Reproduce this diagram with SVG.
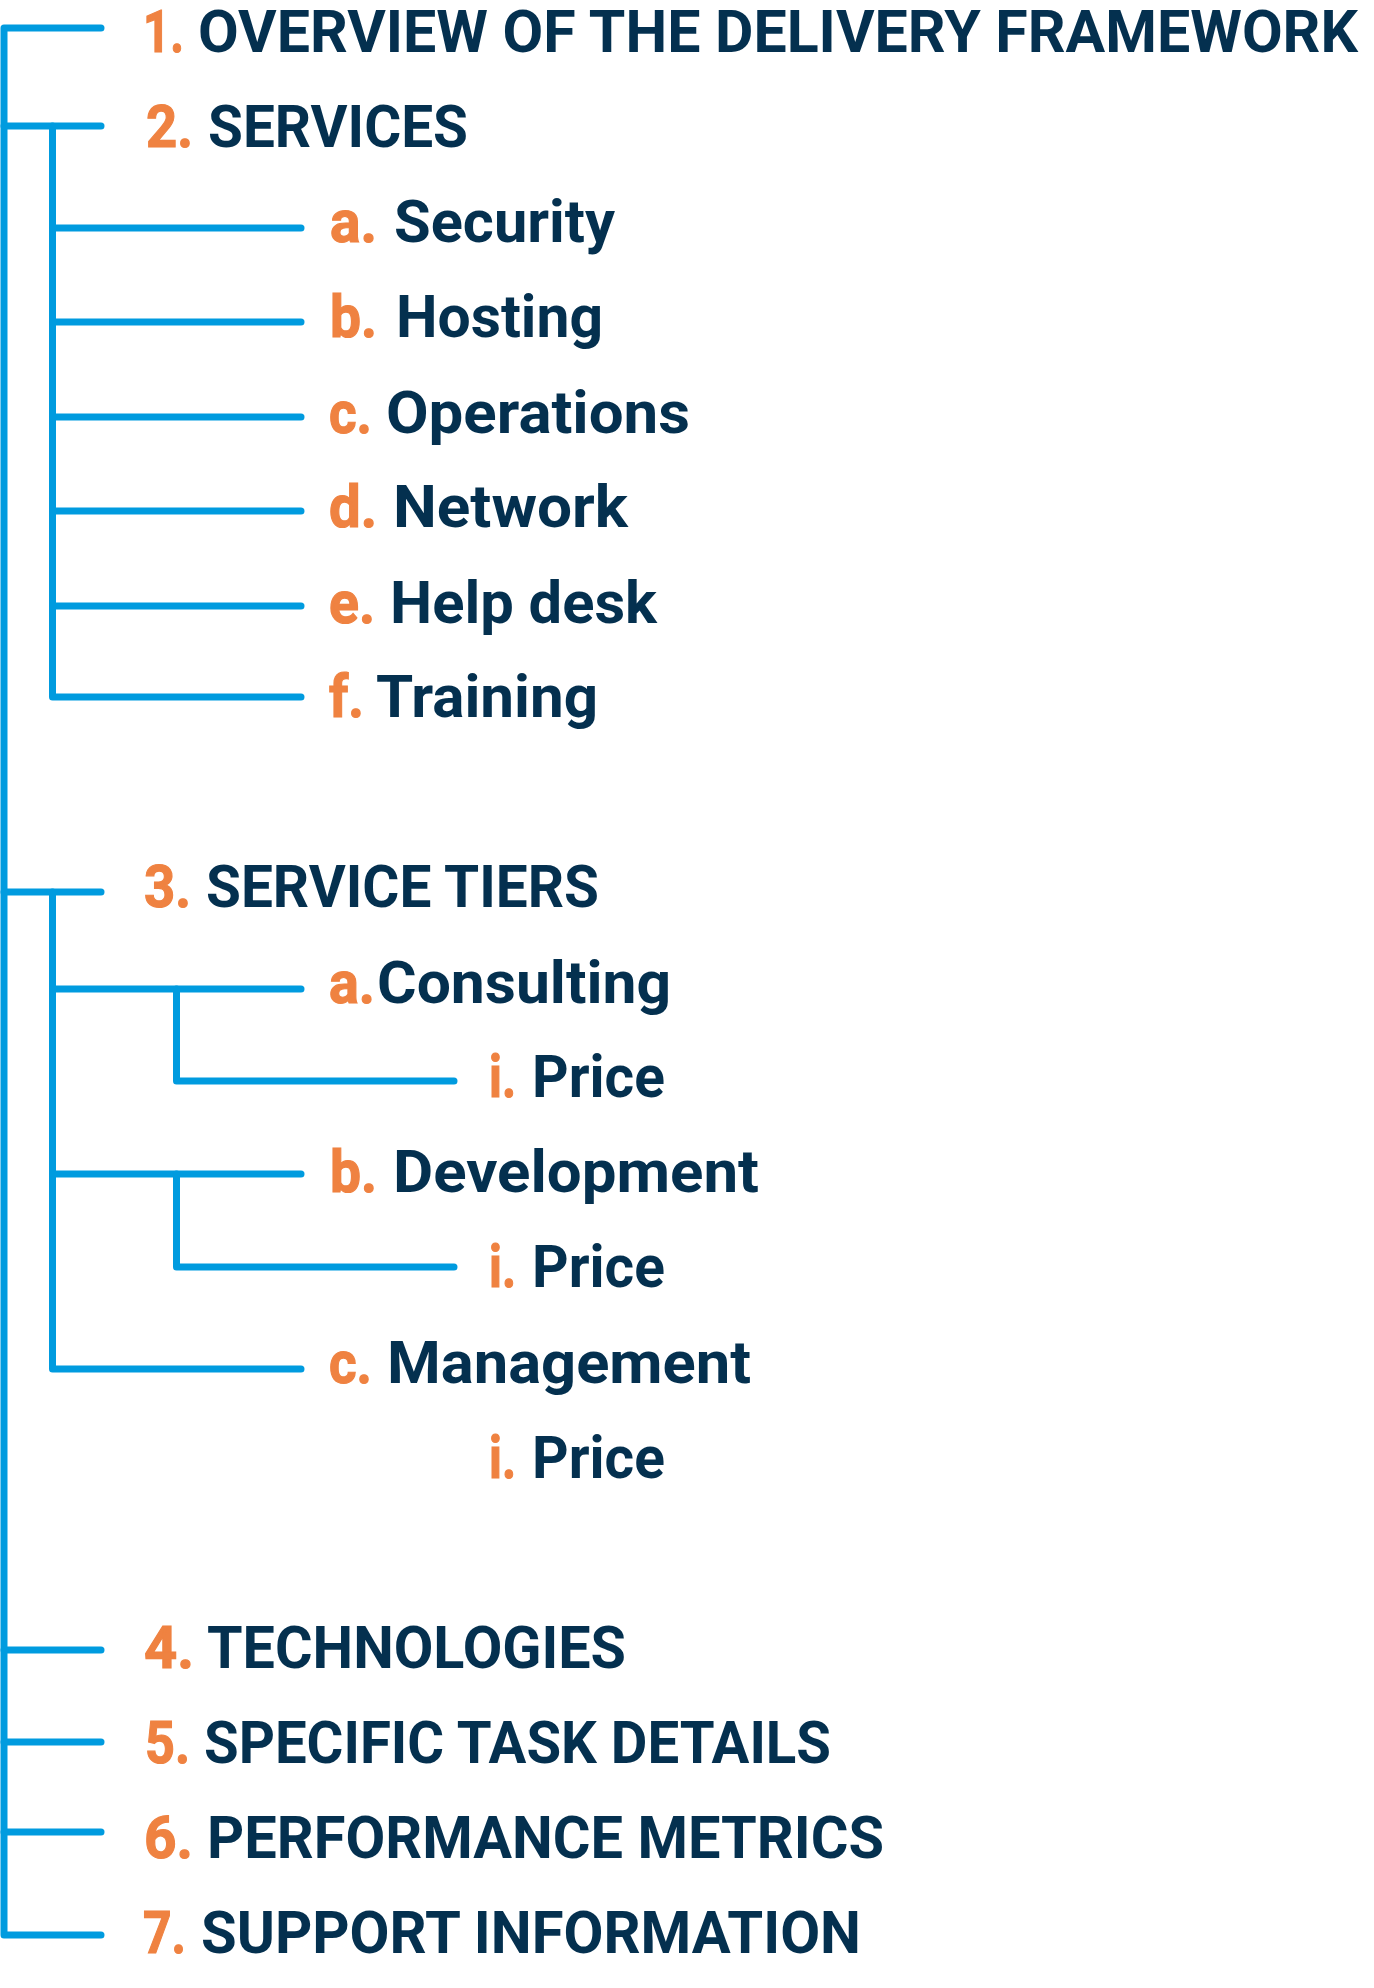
<svg xmlns="http://www.w3.org/2000/svg" width="1374" height="1988" viewBox="0 0 1374 1988">
<style>
  .ln { fill: none; stroke: #009BDF; stroke-width: 7; stroke-linecap: round; stroke-linejoin: round; }
  text { font-family: Roboto, "Open Sans", "Liberation Sans", sans-serif; font-size: 60px; font-weight: 700; }
  .n { fill: #EF8241; stroke: #EF8241; stroke-width: 1.2; }
  .t { fill: #04304F; }
</style>
<rect x="0" y="0" width="1374" height="1988" fill="#FFFFFF"/>
<g id="connectors">
  <path class="ln" d="M101,28 H4 V1935 H101"/>
  <path class="ln" d="M4,126 H101"/>
  <path class="ln" d="M4,892 H101"/>
  <path class="ln" d="M4,1650 H101"/>
  <path class="ln" d="M4,1742 H101"/>
  <path class="ln" d="M4,1832 H101"/>
  <path class="ln" d="M52.5,126 V697 H301"/>
  <path class="ln" d="M52.5,228 H301"/>
  <path class="ln" d="M52.5,322 H301"/>
  <path class="ln" d="M52.5,417 H301"/>
  <path class="ln" d="M52.5,511 H301"/>
  <path class="ln" d="M52.5,606 H301"/>
  <path class="ln" d="M52.5,892 V1369 H301"/>
  <path class="ln" d="M52.5,989 H301"/>
  <path class="ln" d="M52.5,1174 H301"/>
  <path class="ln" d="M176.5,989 V1081 H454"/>
  <path class="ln" d="M176.5,1174 V1267 H454"/>
</g>
<g id="n1"><text class="n" x="143" y="52" textLength="41" lengthAdjust="spacingAndGlyphs">1.</text><text class="t" x="198" y="52" textLength="1160" lengthAdjust="spacingAndGlyphs">OVERVIEW OF THE DELIVERY FRAMEWORK</text></g>
<g id="n2"><text class="n" x="146" y="147" textLength="47" lengthAdjust="spacingAndGlyphs">2.</text><text class="t" x="208" y="147" textLength="260" lengthAdjust="spacingAndGlyphs">SERVICES</text></g>
<g id="n2a"><text class="n" x="330" y="242" textLength="47" lengthAdjust="spacingAndGlyphs">a.</text><text class="t" x="394" y="242" textLength="221" lengthAdjust="spacingAndGlyphs">Security</text></g>
<g id="n2b"><text class="n" x="330" y="337" textLength="47" lengthAdjust="spacingAndGlyphs">b.</text><text class="t" x="396" y="337" textLength="207" lengthAdjust="spacingAndGlyphs">Hosting</text></g>
<g id="n2c"><text class="n" x="329" y="433" textLength="43" lengthAdjust="spacingAndGlyphs">c.</text><text class="t" x="386" y="433" textLength="304" lengthAdjust="spacingAndGlyphs">Operations</text></g>
<g id="n2d"><text class="n" x="329" y="527" textLength="48" lengthAdjust="spacingAndGlyphs">d.</text><text class="t" x="393" y="527" textLength="235" lengthAdjust="spacingAndGlyphs">Network</text></g>
<g id="n2e"><text class="n" x="329" y="623" textLength="46" lengthAdjust="spacingAndGlyphs">e.</text><text class="t" x="390" y="623" textLength="267" lengthAdjust="spacingAndGlyphs">Help desk</text></g>
<g id="n2f"><text class="n" x="329" y="717" textLength="35" lengthAdjust="spacingAndGlyphs">f.</text><text class="t" x="376" y="717" textLength="222" lengthAdjust="spacingAndGlyphs">Training</text></g>
<g id="n3"><text class="n" x="144" y="907" textLength="47" lengthAdjust="spacingAndGlyphs">3.</text><text class="t" x="206" y="907" textLength="393" lengthAdjust="spacingAndGlyphs">SERVICE TIERS</text></g>
<g id="n3a"><text class="n" x="329" y="1003" textLength="46" lengthAdjust="spacingAndGlyphs">a.</text><text class="t" x="377" y="1003" textLength="294" lengthAdjust="spacingAndGlyphs">Consulting</text></g>
<g id="n3ai"><text class="n" x="489" y="1097" textLength="27" lengthAdjust="spacingAndGlyphs">i.</text><text class="t" x="532" y="1097" textLength="133" lengthAdjust="spacingAndGlyphs">Price</text></g>
<g id="n3b"><text class="n" x="330" y="1192" textLength="47" lengthAdjust="spacingAndGlyphs">b.</text><text class="t" x="393" y="1192" textLength="366" lengthAdjust="spacingAndGlyphs">Development</text></g>
<g id="n3bi"><text class="n" x="489" y="1287" textLength="27" lengthAdjust="spacingAndGlyphs">i.</text><text class="t" x="532" y="1287" textLength="133" lengthAdjust="spacingAndGlyphs">Price</text></g>
<g id="n3c"><text class="n" x="329" y="1383" textLength="43" lengthAdjust="spacingAndGlyphs">c.</text><text class="t" x="387" y="1383" textLength="364" lengthAdjust="spacingAndGlyphs">Management</text></g>
<g id="n3ci"><text class="n" x="489" y="1478" textLength="27" lengthAdjust="spacingAndGlyphs">i.</text><text class="t" x="532" y="1478" textLength="133" lengthAdjust="spacingAndGlyphs">Price</text></g>
<g id="n4"><text class="n" x="144" y="1668" textLength="50" lengthAdjust="spacingAndGlyphs">4.</text><text class="t" x="207" y="1668" textLength="419" lengthAdjust="spacingAndGlyphs">TECHNOLOGIES</text></g>
<g id="n5"><text class="n" x="145" y="1763" textLength="45" lengthAdjust="spacingAndGlyphs">5.</text><text class="t" x="204" y="1763" textLength="627" lengthAdjust="spacingAndGlyphs">SPECIFIC TASK DETAILS</text></g>
<g id="n6"><text class="n" x="144" y="1858" textLength="49" lengthAdjust="spacingAndGlyphs">6.</text><text class="t" x="207" y="1858" textLength="677" lengthAdjust="spacingAndGlyphs">PERFORMANCE METRICS</text></g>
<g id="n7"><text class="n" x="143" y="1953" textLength="43" lengthAdjust="spacingAndGlyphs">7.</text><text class="t" x="201" y="1953" textLength="660" lengthAdjust="spacingAndGlyphs">SUPPORT INFORMATION</text></g>
</svg>
